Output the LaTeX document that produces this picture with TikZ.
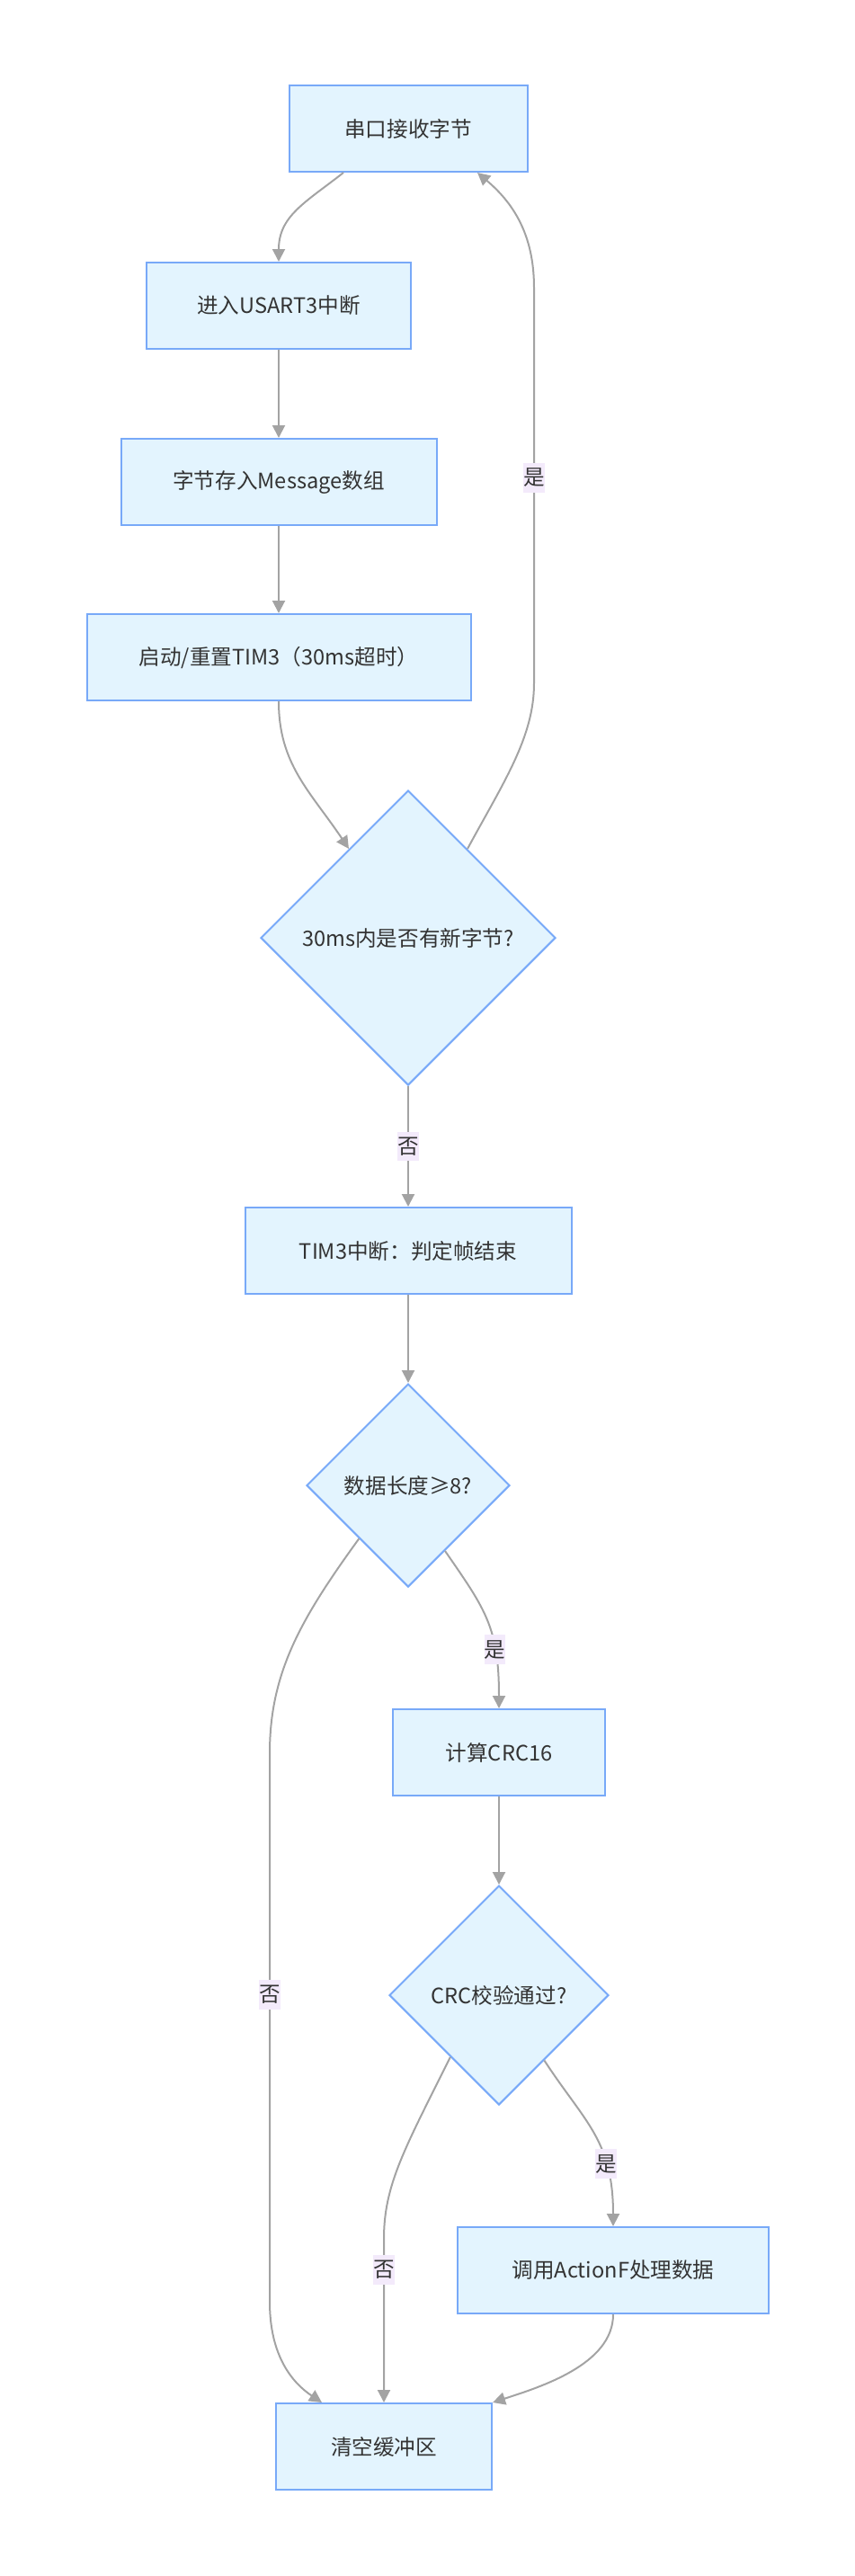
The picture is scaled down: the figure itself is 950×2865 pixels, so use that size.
\documentclass[tikz,border=0pt]{standalone}
\usepackage{fontspec}
\setmainfont{Noto Sans CJK SC}
\usepackage{tikz}
\usetikzlibrary{shapes,arrows.meta,positioning,calc}
\usepackage{xcolor}
\definecolor{boxfill}{HTML}{E3F4FE}
\definecolor{boxline}{HTML}{78A9F8}
\definecolor{edgegray}{HTML}{A3A3A3}
\definecolor{lblbg}{HTML}{F3EAFB}
\definecolor{txt}{HTML}{333333}

\begin{document}
\begin{tikzpicture}[x=0.5pt, y=-0.5pt,
    proc/.style={draw=boxline, fill=boxfill, line width=1pt, minimum height=48pt, inner sep=0pt, text=txt, font=\fontsize{11.8pt}{14pt}\selectfont},
    decide/.style={diamond, draw=boxline, fill=boxfill, line width=1pt, aspect=1, inner sep=0pt, text=txt, font=\fontsize{11.8pt}{14pt}\selectfont},
    flow/.style={draw=edgegray, line width=1pt, -{Triangle[length=7pt, width=7pt]}},
    lbl/.style={fill=lblbg, inner xsep=0pt, inner ysep=3pt, text=txt, font=\fontsize{11.8pt}{14pt}\selectfont}]
    \useasboundingbox (0,0) rectangle (950,2865);

    % Receive chain
    \node[proc, minimum width=132.5pt] (recv) at (454,143) {串口接收字节};
    \node[proc, minimum width=147pt] (usart) at (310,340) {进入USART3中断};
    \node[proc, minimum width=175.5pt] (store) at (310,536) {字节存入Message数组};
    \node[proc, minimum width=213.5pt] (timer) at (310,731) {启动/重置TIM3（30ms超时）};

    % Timeout check
    \node[decide, minimum width=164pt, minimum height=164pt] (chk30) at (454,1043) {30ms内是否有新字节?};
    \node[proc, minimum width=181.5pt] (tim3) at (454,1391) {TIM3中断：判定帧结束};

    % Frame check
    \node[decide, minimum width=113pt, minimum height=113pt] (chklen) at (454,1652) {数据长度≥8?};
    \node[proc, minimum width=118pt] (crc) at (555,1949) {计算CRC16};
    \node[decide, minimum width=122pt, minimum height=122pt] (chkcrc) at (555,2219) {CRC校验通过?};
    \node[proc, minimum width=173pt] (action) at (682,2525) {调用ActionF处理数据};
    \node[proc, minimum width=120pt] (clear) at (427,2721) {清空缓冲区};

    % Connections
    \draw[flow] ($(recv.south)+(-72,0)$) .. controls (340,225) and (310,240) .. (usart.north);
    \draw[flow] (usart) -- (store);
    \draw[flow] (store) -- (timer);
    \draw[flow] (timer.south) .. controls (310,850) and (345,880) .. ($(chk30.north)!0.4!(chk30.west)$);
    \draw[flow] ($(chk30.north)!0.4!(chk30.east)$) .. controls (560,870) and (594,820) .. (594,760)
        -- node[lbl, pos=0.52] {是} (594,320) .. controls (594,260) and (570,225) .. ($(recv.south)+(77,0)$);
    \draw[flow] (chk30) -- node[lbl] {否} (tim3);
    \draw[flow] (tim3) -- (chklen);

    \draw[flow] ($(chklen.east)!0.64!(chklen.south)$) .. controls (540,1790) and (555,1810) .. node[lbl, pos=0.7] {是} (crc.north);
    \draw[flow] ($(chklen.west)!0.52!(chklen.south)$) .. controls (335,1800) and (300,1860) .. (300,1950)
        -- node[lbl, pos=0.44] {否} (300,2560) .. controls (300,2620) and (325,2650) .. ($(clear.north)+(-69,0)$);
    \draw[flow] (crc) -- (chkcrc);
    \draw[flow] ($(chkcrc.east)!0.59!(chkcrc.south)$) .. controls (650,2360) and (682,2380) .. node[lbl, pos=0.7] {是} (action.north);
    \draw[flow] ($(chkcrc.west)!0.56!(chkcrc.south)$) .. controls (450,2390) and (427,2430) .. (427,2490)
        -- node[lbl, pos=0.19] {否} (clear.north);
    \draw[flow] (action.south) .. controls (682,2630) and (600,2655) .. (clear.north east);
\end{tikzpicture}
\end{document}
